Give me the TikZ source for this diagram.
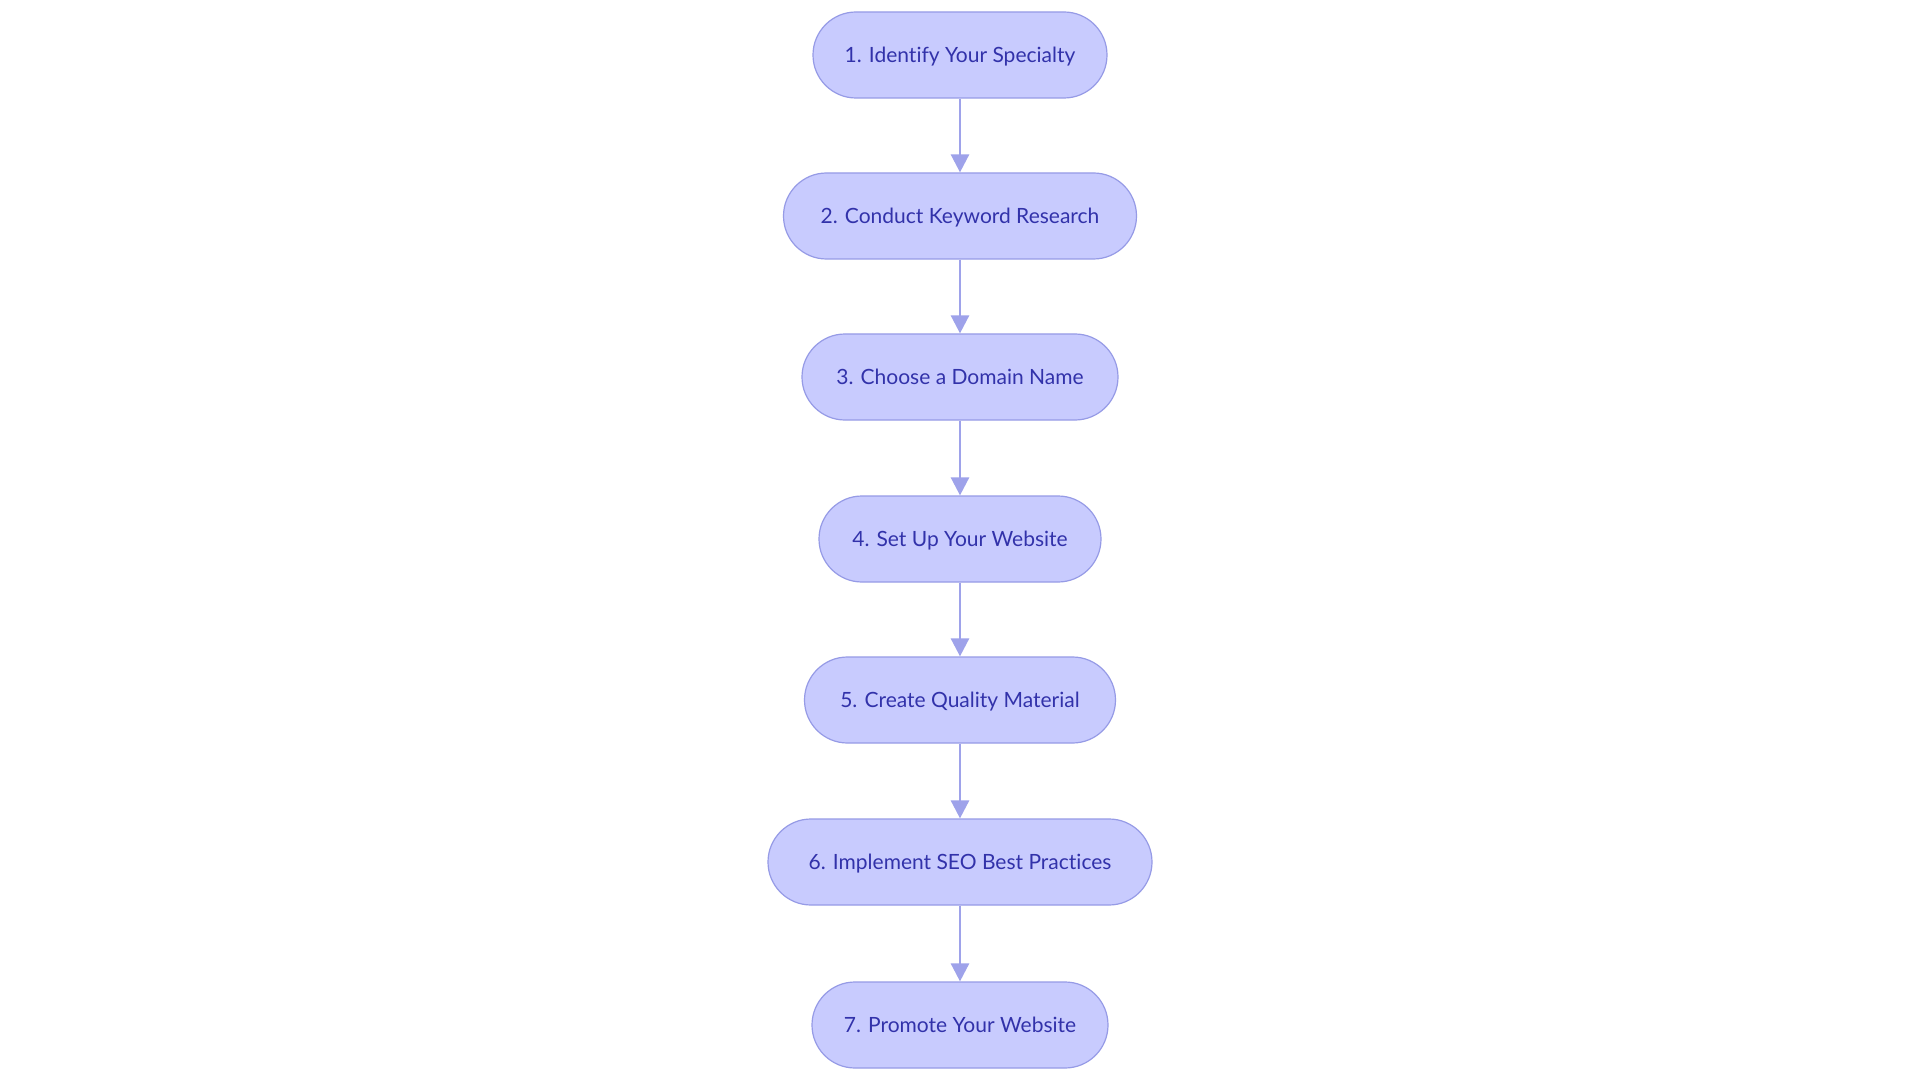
\documentclass[tikz,border=0pt]{standalone}
\usepackage{fontspec}
\setmainfont{Lato}[Ligatures=NoCommon]
\usetikzlibrary{arrows.meta}
\definecolor{boxfill}{RGB}{200,203,254}
\definecolor{boxline}{RGB}{150,155,230}
\definecolor{boxtext}{RGB}{50,50,170}
\definecolor{arrowcol}{RGB}{158,162,234}
\tikzset{
  stepbox/.style={draw=boxline, line width=1.2pt, fill=boxfill, rounded corners=43pt,
    minimum height=86pt, inner sep=0pt, text=boxtext, text depth=0pt,
    font=\fontsize{21}{25}\selectfont},
  flow/.style={draw=arrowcol, line width=2.6pt, -{Triangle[length=18pt,width=18pt]}}
}
\begin{document}
\begin{tikzpicture}[x=1pt,y=-1pt]
\useasboundingbox[fill=white] (0,0) rectangle (1920,1083);
\node[stepbox, minimum width=294pt] (n1) at (960,55) {1. Identify Your Specialty};
\node[stepbox, minimum width=353pt] (n2) at (960,216) {2. Conduct Keyword Research};
\node[stepbox, minimum width=316pt] (n3) at (960,377) {3. Choose a Domain Name};
\node[stepbox, minimum width=282pt] (n4) at (960,539) {4. Set Up Your Website};
\node[stepbox, minimum width=311pt] (n5) at (960,700) {5. Create Quality Material};
\node[stepbox, minimum width=384pt] (n6) at (960,862) {6. Implement SEO Best Practices};
\node[stepbox, minimum width=296pt] (n7) at (960,1025) {7. Promote Your Website};
\draw[flow] (n1) -- (n2);
\draw[flow] (n2) -- (n3);
\draw[flow] (n3) -- (n4);
\draw[flow] (n4) -- (n5);
\draw[flow] (n5) -- (n6);
\draw[flow] (n6) -- (n7);
\end{tikzpicture}
\end{document}
